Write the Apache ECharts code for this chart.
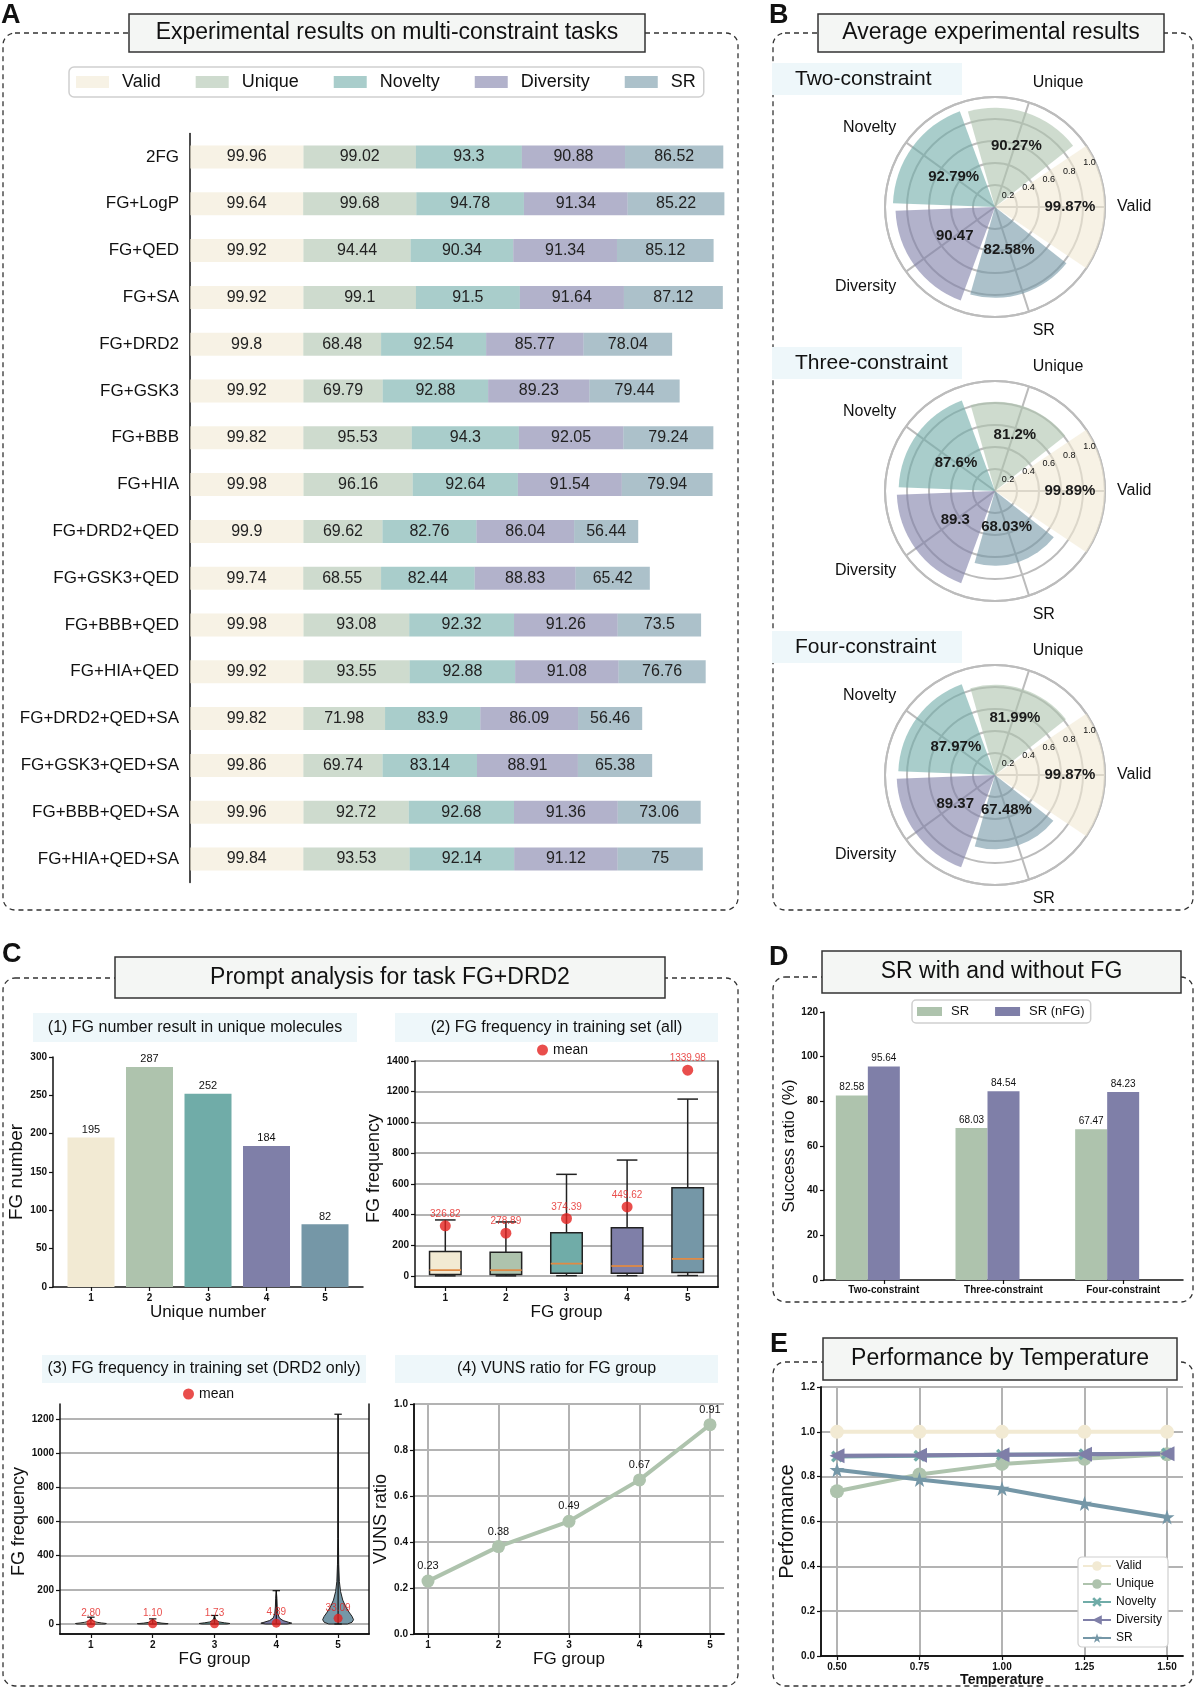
<!DOCTYPE html>
<html>
<head>
<meta charset="utf-8">
<script src="https://cdn.jsdelivr.net/npm/echarts@6.0.0/dist/echarts.min.js"></script>
<style>
html,body{margin:0;padding:0;background:#ffffff;}
#chart{width:1200px;height:1692px;}
</style>
</head>
<body>
<div id="chart"></div>
<script>
// ---------------- DATA ----------------
const taskNames = ['2FG','FG+LogP','FG+QED','FG+SA','FG+DRD2','FG+GSK3','FG+BBB','FG+HIA','FG+DRD2+QED','FG+GSK3+QED','FG+BBB+QED','FG+HIA+QED','FG+DRD2+QED+SA','FG+GSK3+QED+SA','FG+BBB+QED+SA','FG+HIA+QED+SA'];
const metricNames = ['Valid','Unique','Novelty','Diversity','SR'];
const validVals = [99.96,99.64,99.92,99.92,99.8,99.92,99.82,99.98,99.9,99.74,99.98,99.92,99.82,99.86,99.96,99.84];
const uniqueVals = [99.02,99.68,94.44,99.1,68.48,69.79,95.53,96.16,69.62,68.55,93.08,93.55,71.98,69.74,92.72,93.53];
const noveltyVals = [93.3,94.78,90.34,91.5,92.54,92.88,94.3,92.64,82.76,82.44,92.32,92.88,83.9,83.14,92.68,92.14];
const diversityVals = [90.88,91.34,91.34,91.64,85.77,89.23,92.05,91.54,86.04,88.83,91.26,91.08,86.09,88.91,91.36,91.12];
const srVals = [86.52,85.22,85.12,87.12,78.04,79.44,79.24,79.94,56.44,65.42,73.5,76.76,56.46,65.38,73.06,75];

const constraintNames = ['Two-constraint','Three-constraint','Four-constraint'];
const avgTwo = [99.87,90.27,92.79,90.47,82.58];
const avgThree = [99.89,81.2,87.6,89.3,68.03];
const avgFour = [99.87,81.99,87.97,89.37,67.48];
const avgSuffix = ['%','%','%','','%'];

const uniqueNumbers = [1,2,3,4,5];
const fgNumberCounts = [195,287,252,184,82];

const fgGroups = ['1','2','3','4','5'];
const allLow = [1,1,2,2,3];
const allQ1 = [10,10,18,18,22];
const allMedian = [38,38,80,65,112];
const allQ3 = [160,155,282,315,575];
const allHigh = [365,352,662,755,1152];
const allMean = [326.82,278.89,374.39,449.62,1339.98];

const drd2Min = [0,0,0,0,0];
const drd2Max = [40,30,50,195,1228];
const drd2Mean = [2.80,1.10,1.73,4.89,33.09];
const violinLevels = [
  [0,3,6,10,15,25,40],
  [0,2,5,10,20,30],
  [0,3,7,12,20,35,50],
  [0,5,10,20,35,60,100,150,195],
  [0,10,25,45,70,100,140,190,250,350,500,800,1228]
];
const violinWidths = [
  [0.45,0.5,0.35,0.2,0.08,0.03,0],
  [0.45,0.5,0.3,0.12,0.04,0],
  [0.4,0.5,0.32,0.15,0.06,0.02,0],
  [0.35,0.5,0.4,0.22,0.1,0.05,0.03,0.02,0],
  [0.3,0.45,0.5,0.45,0.35,0.25,0.15,0.08,0.04,0.02,0.01,0.005,0]
];

const fgGroupNums = [1,2,3,4,5];
const vunsRatio = [0.23,0.38,0.49,0.67,0.91];

const srWith = [82.58,68.03,67.47];
const srWithout = [95.64,84.54,84.23];

const temps = [0.5,0.75,1.0,1.25,1.5];
const tValid = [1.0,1.0,1.0,1.0,1.0];
const tUnique = [0.735,0.81,0.857,0.88,0.90];
const tNovelty = [0.89,0.893,0.898,0.90,0.903];
const tDiversity = [0.893,0.895,0.898,0.90,0.902];
const tSR = [0.831,0.787,0.747,0.68,0.62];

// ---------------- STYLE ----------------
const FONT = "'Liberation Sans', Arial, Helvetica, sans-serif";
const palette = ['#f2ead3','#aec3ad','#70aca8','#7f7fa8','#7597a7'];
const paletteSoft = ['rgba(242,234,211,0.6)','rgba(174,195,173,0.6)','rgba(112,172,168,0.6)','rgba(127,127,168,0.6)','rgba(117,151,167,0.6)'];
const AX = '#111';
const ZW = '\u200b';
const plain = v => String(v);
const tickLabel = {fontSize:10, fontWeight:'bold', color:'#111', margin:6, fontFamily:FONT, formatter:plain};
const gridLine = {show:true, lineStyle:{color:'#b3b3b3', width:2}};
const axLine = {show:true, lineStyle:{color:AX, width:1.5}};
const axTick = {show:true, length:4, lineStyle:{color:AX, width:1.2}};
function lineOnly(extra){
  return Object.assign({axisLine:axLine, axisTick:{show:false}, axisLabel:{show:false}, splitLine:{show:false}}, extra);
}
function nameStyle(fs){ return {fontSize:fs, color:'#111', fontFamily:FONT}; }

// ---------------- GRAPHICS (panel frames / titles) ----------------
function panelBorder(x,y,w,h){
  return {type:'rect', shape:{x:x,y:y,width:w,height:h,r:12}, style:{fill:'none', stroke:'#333', lineWidth:1.3, lineDash:[5,4]}};
}
function titleBox(x,y,w,h,text,fs){
  return [
    {type:'rect', shape:{x:x,y:y,width:w,height:h}, style:{fill:'#f4f6f4', stroke:'#333', lineWidth:1.5}},
    {type:'text', x:x+w/2, y:y+h/2, style:{text:text, fontSize:fs, fontFamily:FONT, fill:'#111', align:'center', verticalAlign:'middle'}}
  ];
}
function subBox(x,y,w,h,text,fs,alignLeft){
  return [
    {type:'rect', shape:{x:x,y:y,width:w,height:h}, style:{fill:'#eef7fa'}},
    {type:'text', x: alignLeft ? x+23 : x+w/2, y:y+h/2, style:{text:text, fontSize:fs, fontFamily:FONT, fill:'#111', align: alignLeft?'left':'center', verticalAlign:'middle'}}
  ];
}
function letter(x,y,t){
  return {type:'text', x:x, y:y, style:{text:t, fontSize:27, fontWeight:'bold', fontFamily:FONT, fill:'#111', align:'left', verticalAlign:'top'}};
}
const polarCenters = [[995,207],[995,491],[995,775]];
const subY = [63,347,631];

let graphics = [
  panelBorder(3,33,735,877),
  panelBorder(773,33,420,877),
  panelBorder(3,978,735,708),
  panelBorder(773,977,420,325),
  panelBorder(773,1362,420,324)
];
graphics = graphics.concat(
  titleBox(129,14,516,38,'Experimental results on multi-constraint tasks',23),
  titleBox(818,14,346,38,'Average experimental results',23),
  titleBox(115,957,550,41,'Prompt analysis for task FG+DRD2',23),
  titleBox(822,951,359,42,'SR with and without FG',23),
  titleBox(823,1338,354,42,'Performance by Temperature',23),
  subBox(772,subY[0],190,32,constraintNames[0],21,true),
  subBox(772,subY[1],190,32,constraintNames[1],21,true),
  subBox(772,subY[2],190,32,constraintNames[2],21,true),
  subBox(33,1013,324,29,'(1) FG number result in unique molecules',16,false),
  subBox(395,1013,323,29,'(2) FG frequency in training set (all)',16,false),
  subBox(42,1355,324,28,'(3) FG frequency in training set (DRD2 only)',16,false),
  subBox(395,1355,323,28,'(4) VUNS ratio for FG group',16,false),
  [letter(1,2,'A'), letter(769,2,'B'), letter(2,941,'C'), letter(769,944,'D'), letter(770,1331,'E')]
);

// ---------------- GRIDS ----------------
const grids = [
  {left:190, top:133.6, width:545, height:748.8},    // 0 A
  {left:53, top:1057, width:310, height:230},        // 1 C1 frame
  {left:91, top:1057, width:234, height:230},        // 2 C1 data
  {left:415, top:1061, width:303, height:226},       // 3 C2 frame
  {left:415, top:1061, width:303, height:215},       // 4 C2 data
  {left:60, top:1404, width:309, height:230},        // 5 C3 frame
  {left:60, top:1419, width:309, height:205},        // 6 C3 data
  {left:414, top:1404, width:310, height:230},       // 7 C4 frame
  {left:428, top:1404, width:282, height:230},       // 8 C4 data
  {left:824, top:1012, width:359, height:268},       // 9 D
  {left:821, top:1387, width:362, height:269},       // 10 E frame
  {left:837, top:1387, width:330, height:269}        // 11 E data
].map(g => Object.assign({containLabel:false, outerBoundsMode:'none'}, g));

// ---------------- AXES ----------------
const xAxes = [
  {gridIndex:0, type:'value', min:0, max:480, show:false},
  lineOnly({gridIndex:1, type:'value', min:0, max:1}),
  {gridIndex:2, type:'value', min:1, max:5, interval:1, axisLine:{show:false}, axisTick:axTick, axisLabel:tickLabel, splitLine:{show:false},
    name:'Unique number', nameLocation:'middle', nameGap:17, nameTextStyle:nameStyle(17)},
  {gridIndex:3, type:'category', data:fgGroups, axisLine:axLine, axisTick:Object.assign({alignWithLabel:true}, axTick), axisLabel:tickLabel, splitLine:{show:false},
    name:'FG group', nameLocation:'middle', nameGap:15, nameTextStyle:nameStyle(17)},
  lineOnly({gridIndex:3, type:'value', min:0, max:1, position:'top'}),
  {gridIndex:4, type:'category', data:fgGroups, show:false},
  {gridIndex:5, type:'category', data:fgGroups, axisLine:axLine, axisTick:Object.assign({alignWithLabel:true}, axTick), axisLabel:tickLabel, splitLine:{show:false},
    name:'FG group', nameLocation:'middle', nameGap:15, nameTextStyle:nameStyle(17)},
  lineOnly({gridIndex:5, type:'value', min:0, max:1, position:'top'}),
  {gridIndex:6, type:'category', data:fgGroups, show:false},
  lineOnly({gridIndex:7, type:'value', min:0, max:1}),
  lineOnly({gridIndex:7, type:'value', min:0, max:1, position:'top'}),
  {gridIndex:8, type:'value', min:1, max:5, interval:1, axisLine:{show:false}, axisTick:axTick, axisLabel:tickLabel, splitLine:gridLine,
    name:'FG group', nameLocation:'middle', nameGap:15, nameTextStyle:nameStyle(17)},
  {gridIndex:9, type:'category', data:constraintNames, axisLine:axLine, axisTick:Object.assign({alignWithLabel:true}, axTick), axisLabel:Object.assign({}, tickLabel, {interval:0, margin:5}), splitLine:{show:false}},
  lineOnly({gridIndex:10, type:'value', min:0, max:1}),
  lineOnly({gridIndex:10, type:'value', min:0, max:1, position:'top'}),
  {gridIndex:11, type:'value', min:0.5, max:1.5, interval:0.25, axisLine:{show:false}, axisTick:axTick,
    axisLabel:Object.assign({}, tickLabel, {formatter:v=>v.toFixed(2)}), splitLine:gridLine,
    name:'Temperature', nameLocation:'middle', nameGap:17, nameTextStyle:Object.assign(nameStyle(14), {fontWeight:'bold'})}
];

const yAxes = [
  {gridIndex:0, type:'category', data:taskNames, inverse:true, axisLine:axLine, axisTick:{show:false},
    axisLabel:{fontSize:17, color:'#111', margin:11, interval:0, fontFamily:FONT}, splitLine:{show:false}},
  {gridIndex:1, type:'value', min:0, max:300, interval:50, axisLine:axLine, axisTick:axTick, axisLabel:tickLabel, splitLine:{show:false},
    name:'FG number', nameLocation:'middle', nameGap:18, nameTextStyle:nameStyle(19)},
  {gridIndex:2, type:'value', min:0, max:300, show:false},
  lineOnly({gridIndex:3, type:'value', min:0, max:1}),
  lineOnly({gridIndex:3, type:'value', min:0, max:1, position:'right'}),
  {gridIndex:4, type:'value', min:0, max:1400, interval:200, axisLine:{show:false}, axisTick:axTick, axisLabel:tickLabel, splitLine:gridLine,
    name:'FG frequency', nameLocation:'middle', nameGap:27, nameTextStyle:nameStyle(18)},
  lineOnly({gridIndex:5, type:'value', min:0, max:1}),
  lineOnly({gridIndex:5, type:'value', min:0, max:1, position:'right'}),
  {gridIndex:6, type:'value', min:0, max:1200, interval:200, axisLine:{show:false}, axisTick:axTick, axisLabel:tickLabel, splitLine:gridLine,
    name:'FG frequency', nameLocation:'middle', nameGap:24, nameTextStyle:nameStyle(18)},
  {gridIndex:7, type:'value', min:0, max:1, interval:0.2, axisLine:axLine, axisTick:axTick,
    axisLabel:Object.assign({}, tickLabel, {formatter:v=>v.toFixed(1)}), splitLine:gridLine,
    name:'VUNS ratio', nameLocation:'middle', nameGap:24, nameTextStyle:nameStyle(18)},
  lineOnly({gridIndex:7, type:'value', min:0, max:1, position:'right'}),
  {gridIndex:8, type:'value', min:0, max:1, show:false},
  {gridIndex:9, type:'value', min:0, max:120, interval:20, axisLine:axLine, axisTick:axTick, axisLabel:tickLabel, splitLine:{show:false},
    name:'Success ratio (%)', nameLocation:'middle', nameGap:21, nameTextStyle:nameStyle(17)},
  {gridIndex:10, type:'value', min:0, max:1.2, interval:0.2, axisLine:axLine, axisTick:axTick,
    axisLabel:Object.assign({}, tickLabel, {formatter:v=>v.toFixed(1)}), splitLine:gridLine,
    name:'Performance', nameLocation:'middle', nameGap:14, nameTextStyle:nameStyle(20)},
  lineOnly({gridIndex:10, type:'value', min:0, max:1, position:'right'}),
  {gridIndex:11, type:'value', min:0, max:1.2, show:false}
];

// ---------------- POLAR (panel B) ----------------
const polars = [], angleAxes = [], radiusAxes = [];
polarCenters.forEach((c,k) => {
  for (let j=0;j<3;j++) polars.push({center:c, radius:110});
  angleAxes.push({polarIndex:3*k, type:'category', data:metricNames, startAngle:-36, clockwise:false, show:false});
  radiusAxes.push({polarIndex:3*k, type:'value', min:0, max:1, show:false});
  angleAxes.push({polarIndex:3*k+1, type:'value', min:0, max:360, interval:72, startAngle:0, clockwise:false,
    axisLine:{show:true, lineStyle:{color:'#bcbcbc', width:2}}, axisTick:{show:false},
    splitLine:{show:true, lineStyle:{color:'#bcbcbc', width:2}},
    axisLabel:{margin:12, fontSize:16, color:'#111', fontFamily:FONT, formatter:v => (v % 72 === 0 && v < 360) ? metricNames[v/72] : ''}});
  radiusAxes.push({polarIndex:3*k+1, type:'value', min:0, max:1, interval:0.2,
    axisLine:{show:false}, axisTick:{show:false}, axisLabel:{show:false},
    splitLine:{show:true, lineStyle:{color:'#bcbcbc', width:2}}});
  angleAxes.push({polarIndex:3*k+2, type:'value', min:0, max:360, startAngle:22, show:false});
  radiusAxes.push({polarIndex:3*k+2, type:'value', min:0, max:1, interval:0.2, z:6,
    axisLine:{show:false}, axisTick:{show:false}, splitLine:{show:false},
    axisLabel:{fontSize:9, color:'#111', fontFamily:FONT, margin:3, formatter:v => v===0 ? '' : v.toFixed(1)}});
});

// ---------------- SERIES ----------------
const series = [];
const aValues = [validVals, uniqueVals, noveltyVals, diversityVals, srVals];
metricNames.forEach((m,k) => {
  series.push({type:'bar', name:m, stack:'a', xAxisIndex:0, yAxisIndex:0, barWidth:23,
    data:aValues[k], itemStyle:{color:paletteSoft[k]},
    label:{show:true, position:'inside', color:'#222', fontSize:16, fontFamily:FONT, formatter:p=>String(p.value)}});
});

// per-wedge label nudges (style only)
const wedgeLabelOffset = [[20,0],[6,-14],[0,0],[0,0],[0,0]];
[avgTwo, avgThree, avgFour].forEach((vals,k) => {
  series.push({type:'bar', coordinateSystem:'polar', polarIndex:3*k, barCategoryGap:'6%',
    data: vals.map((v,i) => ({value:v/100, itemStyle:{color:paletteSoft[i]},
      label:{formatter:String(v)+avgSuffix[i], offset:wedgeLabelOffset[i]}})),
    label:{show:true, position:'middle', rotate:0, fontSize:15, fontWeight:'bold', color:'#1a1a1a', fontFamily:FONT}});
});

// C1
series.push({type:'bar', xAxisIndex:2, yAxisIndex:2, barWidth:47, clip:false,
  data: uniqueNumbers.map((u,i) => ({value:[u, fgNumberCounts[i]], itemStyle:{color:palette[i]}})),
  label:{show:true, position:'top', distance:2, fontSize:11, color:'#111', fontFamily:FONT, formatter:p=>String(p.value[1])}});

// C2 box plot
series.push({type:'custom', xAxisIndex:5, yAxisIndex:5,
  data: fgGroups.map((g,i) => [i, allLow[i], allQ1[i], allMedian[i], allQ3[i], allHigh[i]]),
  encode:{x:0, y:[1,2,3,4,5]},
  renderItem:function(params, api){
    const i = api.value(0);
    const band = api.size([1,0])[0];
    const half = band*0.26, cap = band*0.17;
    const lo = api.coord([i, api.value(1)]), q1 = api.coord([i, api.value(2)]), md = api.coord([i, api.value(3)]),
          q3 = api.coord([i, api.value(4)]), hi = api.coord([i, api.value(5)]);
    const x = lo[0];
    const st = {stroke:'#222', lineWidth:1.5};
    return {type:'group', children:[
      {type:'line', shape:{x1:x,y1:lo[1],x2:x,y2:q1[1]}, style:st},
      {type:'line', shape:{x1:x,y1:q3[1],x2:x,y2:hi[1]}, style:st},
      {type:'line', shape:{x1:x-cap,y1:lo[1],x2:x+cap,y2:lo[1]}, style:st},
      {type:'line', shape:{x1:x-cap,y1:hi[1],x2:x+cap,y2:hi[1]}, style:st},
      {type:'rect', shape:{x:x-half,y:q3[1],width:2*half,height:q1[1]-q3[1]}, style:{fill:palette[params.dataIndex], stroke:'#222', lineWidth:1.5}},
      {type:'line', shape:{x1:x-half,y1:md[1],x2:x+half,y2:md[1]}, style:{stroke:'#e08a45', lineWidth:1.8}}
    ]};
  }});
series.push({type:'scatter', name:'mean', xAxisIndex:5, yAxisIndex:5, z:5,
  data: allMean.map((m,i)=>[i,m]), symbolSize:11, itemStyle:{color:'#e4221f'},
  label:{show:true, position:'top', distance:1, color:'#e4221f', fontSize:10, fontFamily:FONT, formatter:p=>p.value[1].toFixed(2)}});

// C3 violin
series.push({type:'custom', xAxisIndex:8, yAxisIndex:8,
  data: fgGroups.map((g,i) => [i, drd2Min[i], drd2Max[i]]),
  encode:{x:0, y:[1,2]},
  renderItem:function(params, api){
    const i = api.value(0);
    const band = api.size([1,0])[0];
    const lv = violinLevels[i], wd = violinWidths[i];
    const right = [], left = [];
    for (let k=0;k<lv.length;k++){
      const p = api.coord([i, lv[k]]);
      right.push([p[0] + wd[k]*band*0.5, p[1]]);
      left.unshift([p[0] - wd[k]*band*0.5, p[1]]);
    }
    const pMin = api.coord([i, api.value(1)]), pMax = api.coord([i, api.value(2)]);
    const cap = band*0.06;
    const st = {stroke:'#111', lineWidth:1.2};
    return {type:'group', children:[
      {type:'polygon', shape:{points:right.concat(left)}, style:{fill:palette[params.dataIndex], stroke:'#222', lineWidth:1}},
      {type:'line', shape:{x1:pMin[0],y1:pMin[1],x2:pMax[0],y2:pMax[1]}, style:st},
      {type:'line', shape:{x1:pMax[0]-cap,y1:pMax[1],x2:pMax[0]+cap,y2:pMax[1]}, style:st},
      {type:'line', shape:{x1:pMin[0]-cap,y1:pMin[1],x2:pMin[0]+cap,y2:pMin[1]}, style:st}
    ]};
  }});
series.push({type:'scatter', name:'mean', xAxisIndex:8, yAxisIndex:8, z:5,
  data: drd2Mean.map((m,i)=>[i,m]), symbolSize:9, itemStyle:{color:'#e4221f'},
  label:{show:true, position:'top', distance:1, color:'#e4221f', fontSize:10, fontFamily:FONT, formatter:p=>p.value[1].toFixed(2)}});

// C4 line
series.push({type:'line', xAxisIndex:11, yAxisIndex:11, clip:false,
  data: fgGroupNums.map((g,i)=>[g, vunsRatio[i]]), symbol:'circle', symbolSize:13,
  lineStyle:{width:4, color:palette[1]}, itemStyle:{color:palette[1]},
  label:{show:true, position:'top', distance:3, fontSize:11, color:'#111', fontFamily:FONT, formatter:p=>p.value[1].toFixed(2)}});

// D bars
const dLabel = {show:true, position:'top', distance:3, fontSize:10, color:'#111', fontFamily:FONT, formatter:p=>p.value.toFixed(2)};
series.push({type:'bar', name:'SR'+ZW, xAxisIndex:12, yAxisIndex:12, barWidth:32, barGap:'0%', data:srWith, itemStyle:{color:palette[1]}, label:dLabel});
series.push({type:'bar', name:'SR (nFG)', xAxisIndex:12, yAxisIndex:12, barWidth:32, barGap:'0%', data:srWithout, itemStyle:{color:palette[3]}, label:dLabel});
series.push({type:'bar', name:'slot', xAxisIndex:12, yAxisIndex:12, barWidth:32, barGap:'0%', data:srWith.map(()=>null)});

// E lines
const xSymbol = 'path://M0,2 L2,0 L5,3 L8,0 L10,2 L7,5 L10,8 L8,10 L5,7 L2,10 L0,8 L3,5 Z';
const starSymbol = 'path://M50,0 L61.8,35.4 L99,35.4 L69,57.3 L80.3,92.7 L50,70.8 L19.7,92.7 L31,57.3 L1,35.4 L38.2,35.4 Z';
const tSeries = [tValid, tUnique, tNovelty, tDiversity, tSR];
const tSymbols = ['circle','circle',xSymbol,'triangle',starSymbol];
const tSizes = [14,14,12,15,15];
const tRotate = [0,0,0,90,0];
const eNames = metricNames.map(m => m + ZW + ZW);
metricNames.forEach((m,k) => {
  series.push({type:'line', name:eNames[k], xAxisIndex:15, yAxisIndex:15, clip:false,
    data: temps.map((t,i)=>[t, tSeries[k][i]]), symbol:tSymbols[k], symbolSize:tSizes[k], symbolRotate:tRotate[k],
    lineStyle:{width:4, color:palette[k]}, itemStyle:{color:palette[k]}});
});

// ---------------- LEGENDS ----------------
const legends = [
  {data:metricNames, left:69, top:67, orient:'horizontal', icon:'rect', itemWidth:33, itemHeight:12, itemGap:35,
    textStyle:{fontSize:18, color:'#111', fontFamily:FONT, padding:[0,0,0,8]}, padding:[6,8,6,7],
    backgroundColor:'#fff', borderColor:'#cfcfcf', borderWidth:1.5, borderRadius:5, selectedMode:false},
  {data:['mean'], left:537, top:1043, icon:'circle', itemWidth:11, itemHeight:11, textStyle:{fontSize:14, color:'#111', fontFamily:FONT}, padding:0, selectedMode:false},
  {data:['mean'], left:183, top:1387, icon:'circle', itemWidth:11, itemHeight:11, textStyle:{fontSize:14, color:'#111', fontFamily:FONT}, padding:0, selectedMode:false},
  {data:['SR'+ZW,'SR (nFG)'], left:912, top:1000, icon:'rect', itemWidth:25, itemHeight:9, itemGap:26,
    textStyle:{fontSize:13, color:'#111', fontFamily:FONT, padding:[0,0,0,4]}, padding:[5,6,5,5],
    backgroundColor:'#fff', borderColor:'#cfcfcf', borderWidth:1.5, borderRadius:4, selectedMode:false},
  {data:eNames, left:1078, top:1557, orient:'vertical', itemWidth:28, itemHeight:12, itemGap:6,
    textStyle:{fontSize:12, color:'#111', fontFamily:FONT}, padding:[3,6,3,4],
    backgroundColor:'#fff', borderColor:'#cfcfcf', borderWidth:1.2, borderRadius:4, selectedMode:false}
];

const option = {
  animation:false,
  backgroundColor:'#ffffff',
  textStyle:{fontFamily:FONT},
  graphic:{elements:graphics},
  grid:grids,
  xAxis:xAxes,
  yAxis:yAxes,
  polar:polars,
  angleAxis:angleAxes,
  radiusAxis:radiusAxes,
  legend:legends,
  series:series
};
const chart = echarts.init(document.getElementById('chart'), null, {renderer:'canvas', width:1200, height:1692});
chart.setOption(option);
</script>
</body>
</html>
